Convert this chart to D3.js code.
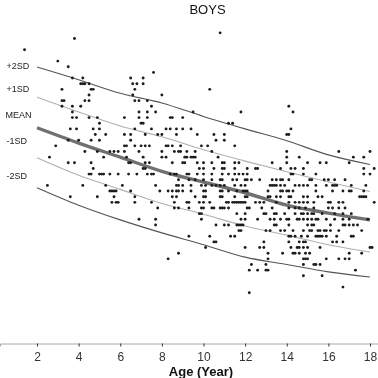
<!DOCTYPE html>
<html><head><meta charset="utf-8">
<script src="https://cdn.jsdelivr.net/npm/d3@7/dist/d3.min.js"></script>
<style>html,body{margin:0;padding:0;background:#fff}svg{display:block;filter:blur(0.3px)}text{font-family:"Liberation Sans",Arial,sans-serif}</style>
</head><body><svg id="c" width="378" height="378"></svg>
<script>
const title = "BOYS";
const xTitle = "Age (Year)";
const xTicks = [2,4,6,8,10,12,14,16,18];
const curveAges = [2,4,6,8,10,12,14,16,18];
const sdPlus2  = [48.95,46.7,44.3,42.6,40.2,38.0,35.9,33.4,31.7];
const sdPlus1  = [43.6,41.0,38.5,36.6,34.3,32.3,30.4,28.6,26.9];
const sdMean   = [38.2,35.5,33.0,30.5,28.6,26.7,24.5,23.1,21.9];
const sdMinus1 = [32.9,29.8,27.3,24.8,22.9,20.8,19.2,17.5,16.2];
const sdMinus2 = [27.6,24.5,21.9,19.6,17.5,15.3,14.0,12.7,11.8];
const sdLabels = ["+2SD","+1SD","MEAN","-1SD","-2SD"];
const sdLabelValues = [48.6,44.6,40.0,35.3,29.2];
const rowValues = [55,54,52,50,49,48,47,46,45,44,43,42,41,40,39,38,37,36,35,34,33,32,31,30,29,28,27,26,25,24,23,22,21,20,19,18,17,16,15,14,13,12,10,9];
const rowAges = [
[10.8],[3.8],[1.4],[3.0],[3.5],[7.6],
[3.7,4.2,6.5,7.1],
[4.1,4.2,4.3,4.5,6.6,6.8,7.1],
[3.2,4.6,4.7,6.7,10.3],
[4.5,6.6,8.0],
[3.2,3.3,4.3,4.5,6.7,6.9,7.3],
[3.2,3.7,4.1,7.5,14.1],
[3.7,6.9,7.3,7.7,9.5,11.8,14.3],
[3.7,3.9,4.5,4.9,6.2,6.9,7.3,8.4,8.5,9.0],
[5.0,7.0,7.1,11.2,11.4],
[3.6,3.9,4.7,5.0,6.7,7.5,8.2,8.4,8.7,9.0,9.4,14.2],
[4.8,5.3,6.2,6.5,7.2,7.8,8.0,8.7,9.7,10.5,11.0,14.0,14.1],
[3.5,4.0,4.6,5.0,6.5,10.6,11.0],
[2.9,6.2,6.3,6.7,7.0,7.2,7.4,8.2,8.3,8.5,8.9,9.9,10.2,11.5],
[4.3,4.9,5.5,5.7,5.9,6.2,6.9,8.0,8.6,8.8,8.9,9.2,9.6,10.4,14.0,16.5,18.0],
[2.6,5.2,6.3,7.1,8.0,8.2,9.1,9.2,9.4,9.5,9.6,10.7,14.0,14.6,17.2,17.7],
[3.5,3.8,4.6,6.4,6.5,7.2,7.4,8.5,9.0,9.1,9.7,10.0,10.4,10.9,11.0,11.5,11.7,13.3,14.0,15.0,15.6,15.9,17.0],
[4.7,7.1,7.2,9.8,10.0,10.5,10.9,11.0,11.5,12.1,12.5,12.6,13.7,14.2,14.4,14.8,17.7,18.2],
[4.5,4.6,5.0,5.1,5.2,5.5,5.9,6.4,6.8,7.3,7.5,7.6,8.4,8.6,8.7,9.2,9.3,9.7,10.0,10.4,10.9,11.2,11.5,11.7,11.9,12.1,14.2,14.3,14.8,15.4,17.7,18.0],
[8.8,9.3,9.6,10.0,10.4,10.8,10.9,11.4,11.6,12.0,12.1,12.3,12.7,13.3,13.5,13.7,13.8,14.1,15.1,15.2,15.8,16.0,16.3,16.8],
[2.5,4.2,5.3,6.1,7.7,8.7,8.8,9.0,9.4,9.9,10.1,10.4,10.6,10.8,11.0,11.5,11.8,12.0,13.2,13.3,13.4,13.5,13.7,13.9,14.4,14.6,14.8,15.0,15.4,15.9,16.2,16.3,16.4,17.1,17.8],
[5.5,5.6,5.7,5.8,6.5,7.9,8.3,8.5,8.7,8.8,9.0,9.4,10.0,10.1,10.8,10.9,11.2,11.6,11.9,12.0,12.1,13.1,13.7,13.8,14.0,14.1,14.3,15.4,16.2,16.7,17.0,17.1,17.7],
[3.6,4.9,5.7,6.7,8.5,8.7,9.6,10.0,10.1,10.8,10.9,11.5,12.0,12.1,13.1,13.2,13.5,13.7,14.1,14.2,14.8,15.0,15.5,15.7,17.5,17.6,17.7,17.8],
[5.6,5.8,5.9,6.7,7.5,8.6,9.2,9.3,9.8,10.0,10.3,11.1,11.2,11.4,11.5,11.6,11.7,11.8,11.9,12.0,12.5,12.7,12.9,13.5,14.1,14.4,14.6,14.8,15.0,15.3,16.0,16.1,16.5,16.7,18.2],
[7.8,8.6,8.8,9.3,9.9,10.0,10.4,10.5,10.8,10.9,11.0,11.2,12.1,12.2,12.8,13.3,14.1,14.4,14.6,14.9,15.3,16.0,16.2,16.5,16.8],
[9.8,9.9,11.6,12.0,12.9,13.0,13.4,13.5,13.9,14.4,14.7,14.8,15.0,15.2,15.3,15.7,16.3,16.7,17.1],
[6.9,7.7,9.9,11.8,12.0,12.6,13.2,13.4,13.7,14.0,14.1,14.5,14.6,14.8,15.0,15.2,15.4,15.5,15.9,16.3,16.7,17.0,17.9],
[7.7,10.6,11.0,11.2,11.6,11.7,11.8,11.9,13.4,13.5,14.1,15.0,15.2,15.3,16.1,16.7,16.8,17.0,17.2,17.4],
[11.7,11.8,13.0,13.2,13.7,13.9,14.3,14.8,15.1,15.2,15.5,15.6,15.8,15.9,16.1,16.5,17.6],
[9.3,10.3,11.3,11.5,14.1,14.2,14.4,14.7,15.0,15.4,15.5,15.6,15.7,15.9,16.4,17.1,17.2],
[10.5,10.6,12.9,14.1,14.6,14.8,14.9,16.2,16.4,16.7],
[10.1,12.0,12.7,12.9,14.2,14.5,14.6,14.8,15.0,15.6,18.0,18.1],
[8.8,13.1,13.8,14.3,14.4,14.6,14.9,15.1,17.0,17.6],
[8.3,13.1,14.8,14.9,15.0,15.9,16.5,16.8,17.0],
[12.3,13.0,14.8,15.3,15.4,15.6],
[12.2,12.6,13.0,13.1,17.3],
[14.8,15.7],
[16.7],
[12.2]
];

const x = d3.scaleLinear().domain([2,18]).range([37,370]);
const y = d3.scaleLinear().domain([0,55]).range([343.6,32.85]);
const axisX = d3.scaleLinear().domain([x.invert(0),x.invert(378)]).range([0,378]);
const svg = d3.select("#c");

const line = d3.line().x((d,i)=>x(curveAges[i])).y(d=>y(d)).curve(d3.curveMonotoneX);
const curves = [
  {v:sdPlus2,c:"#555",w:1.1},
  {v:sdPlus1,c:"#b0b0b0",w:1.1},
  {v:sdMinus1,c:"#b0b0b0",w:1.1},
  {v:sdMinus2,c:"#555",w:1.1},
  {v:sdMean,c:"#707070",w:3.4}
];
svg.append("g").selectAll("path").data(curves).join("path")
  .attr("d",d=>line(d.v)).attr("fill","none").attr("stroke",d=>d.c).attr("stroke-width",d=>d.w);

const pts = rowValues.flatMap((v,i)=>rowAges[i].map(a=>({a,v})));
const sym = d3.symbol().type(d3.symbolCircle).size(6.5);
svg.append("g").selectAll("path").data(pts).join("path")
  .attr("d",sym).attr("fill","#1c1c1c")
  .attr("transform",d=>`translate(${x(d.a)},${y(d.v)})`);

const ax = svg.append("g").attr("transform","translate(0,343.5)")
  .call(d3.axisBottom(axisX).tickValues(xTicks).tickFormat(d3.format("d")).tickSizeOuter(0).tickSize(3).tickPadding(6));
ax.select(".domain").attr("stroke","#a8a8a8");
ax.selectAll(".tick line").attr("stroke","#333");
ax.selectAll(".tick text").attr("font-size",12).attr("fill","#333").style("font-family",'"Liberation Sans",Arial,sans-serif');

svg.append("g").selectAll("text").data(sdLabels).join("text")
  .attr("x",(d,i)=>d==="MEAN"?5.5:6.5).attr("y",(d,i)=>y(sdLabelValues[i])).attr("font-size",9).attr("fill","#222").text(d=>d);

svg.append("text").attr("x",207.5).attr("y",14).attr("text-anchor","middle").attr("font-size",13).attr("fill","#111").text(title);
svg.append("text").attr("x",201).attr("y",375.5).attr("text-anchor","middle").attr("font-size",13).attr("font-weight","bold").attr("fill","#111").text(xTitle);
</script></body></html>
